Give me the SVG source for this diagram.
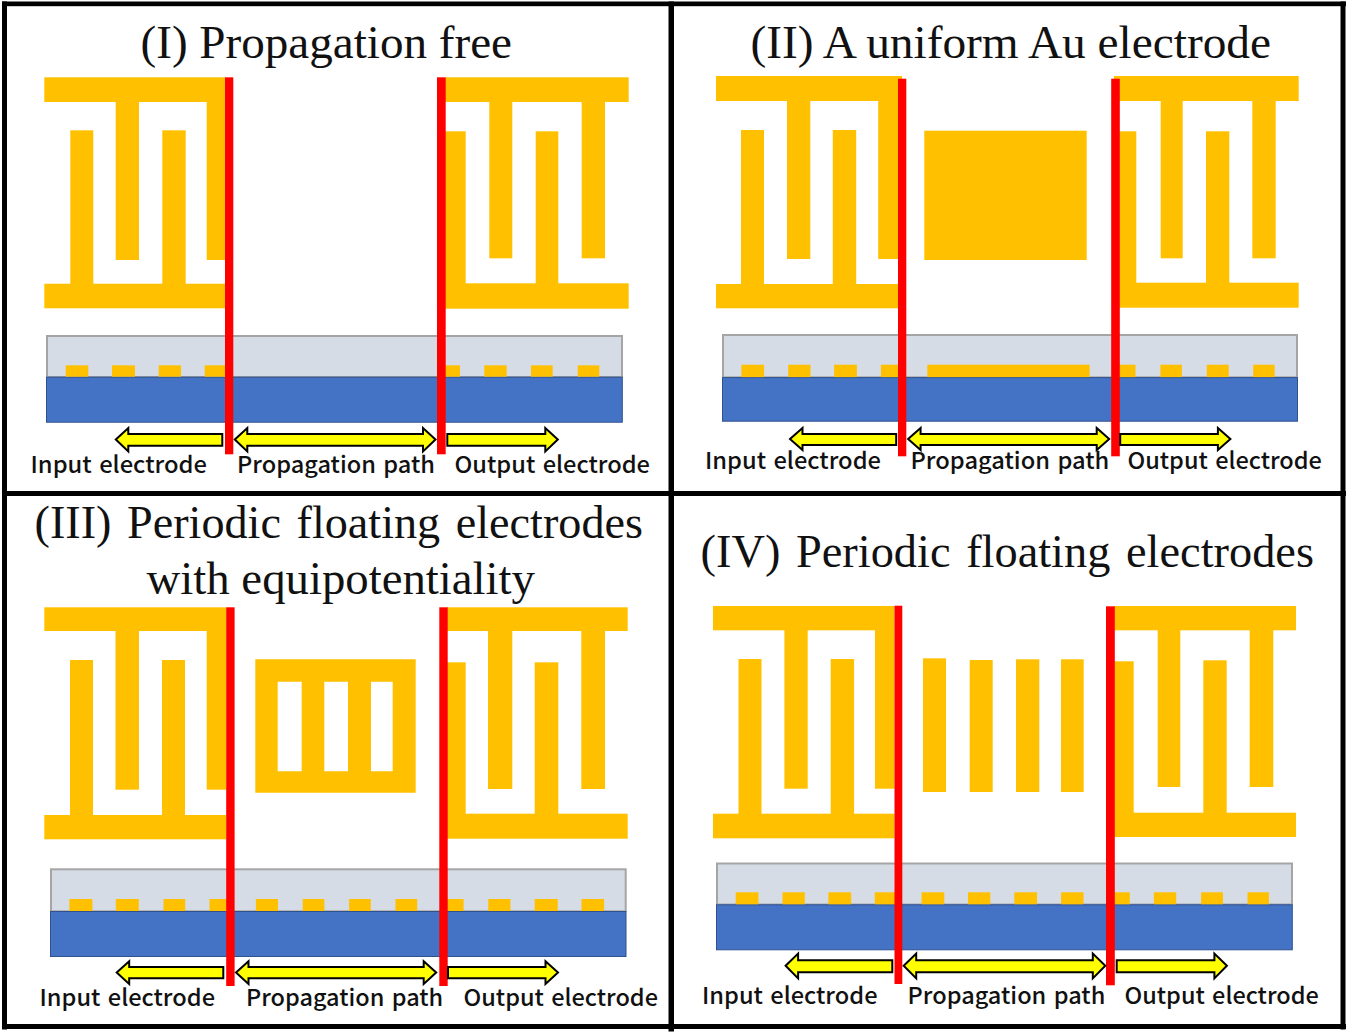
<svg xmlns="http://www.w3.org/2000/svg" width="1346" height="1032" viewBox="0 0 1346 1032">
<style>
.e{fill:#ffc000}
.r{fill:#ff0000}
.g{fill:#d6dce5;stroke:#a5a5a5;stroke-width:2}
.b{fill:#4472c4;stroke:#2f528f;stroke-width:1}
.a{fill:#ffff00;stroke:#000;stroke-width:2;stroke-linejoin:miter}
.f{fill:#000}
.t{font-family:"Liberation Serif","Times New Roman",serif;font-size:46px;fill:#111}
.w{word-spacing:4px}
.l{font-family:"Noto Sans CJK JP","Noto Sans",sans-serif;font-size:23px;font-weight:500;fill:#111;word-spacing:2px}
</style>
<rect width="1346" height="1032" fill="#fff"/>
<g id="panel-1">
<text class="t" x="140.5" y="57.5" textLength="371.5" lengthAdjust="spacingAndGlyphs">(I) Propagation free</text>
<g id="p1-input-idt"><rect class="e" x="44.3" y="77.3" width="181" height="24.7"/><rect class="e" x="115.7" y="102" width="23.3" height="158"/><rect class="e" x="206.7" y="102" width="18.5" height="158"/><rect class="e" x="70.3" y="130.3" width="23" height="154"/><rect class="e" x="162.3" y="130.3" width="23.4" height="154"/><rect class="e" x="44.3" y="283.7" width="181" height="24.6"/></g>
<g id="p1-output-idt"><rect class="e" x="445" y="77.3" width="183.7" height="24.7"/><rect class="e" x="489.3" y="102" width="23" height="156.3"/><rect class="e" x="581.7" y="102" width="23.3" height="156.3"/><rect class="e" x="445" y="131.3" width="20.7" height="153"/><rect class="e" x="535.7" y="131.3" width="22.6" height="153"/><rect class="e" x="445" y="283.3" width="183.7" height="25.4"/></g>
<g id="p1-section"><rect class="g" x="47" y="336" width="575" height="41"/><rect class="b" x="46.5" y="377.2" width="575.8" height="45"/>
<rect class="e" x="65.7" y="365.3" width="22.6" height="11.4"/><rect class="e" x="112" y="365.3" width="23" height="11.4"/><rect class="e" x="158.7" y="365.3" width="22.3" height="11.4"/><rect class="e" x="204.7" y="365.3" width="21" height="11.4"/><rect class="e" x="445" y="365.3" width="15" height="11.4"/><rect class="e" x="484.3" y="365.3" width="22.4" height="11.4"/><rect class="e" x="531" y="365.3" width="21.7" height="11.4"/><rect class="e" x="577.7" y="365.3" width="21.6" height="11.4"/></g>
<rect class="r" x="225" y="77.3" width="8.3" height="377"/><rect class="r" x="437" y="77.3" width="8.7" height="377"/>
<path class="a" d="M115.8 439.6L128.3 428V434H222.3V445.7H128.3V451.4Z"/>
<path class="a" d="M234.8 439.6L247.3 428V434H423V428L435.5 439.6L423 451.4V445.7H247.3V451.4Z"/>
<path class="a" d="M557.8 439.6L545.3 428V434H447.3V445.7H545.3V451.4Z"/>
<text class="l" x="30.5" y="473" textLength="176.5" lengthAdjust="spacingAndGlyphs">Input electrode</text>
<text class="l" x="237" y="473" textLength="198" lengthAdjust="spacingAndGlyphs">Propagation path</text>
<text class="l" x="454.5" y="473" textLength="195.5" lengthAdjust="spacingAndGlyphs">Output electrode</text>
</g>
<g id="panel-2">
<text class="t" x="750.5" y="58" textLength="520.5" lengthAdjust="spacingAndGlyphs">(II) A uniform Au electrode</text>
<g id="p2-input-idt"><rect class="e" x="716" y="76" width="186" height="25"/><rect class="e" x="787" y="101" width="23.3" height="158"/><rect class="e" x="878.2" y="101" width="22" height="158"/><rect class="e" x="741" y="130" width="23" height="155"/><rect class="e" x="832.8" y="130" width="23.4" height="155"/><rect class="e" x="716" y="284" width="184" height="24.3"/></g>
<rect id="p2-uniform" class="e" x="924.3" y="130.7" width="162.4" height="129.3"/>
<g id="p2-output-idt"><rect class="e" x="1114" y="76" width="184.7" height="25"/><rect class="e" x="1160.7" y="101" width="22" height="157.3"/><rect class="e" x="1252.3" y="101" width="23.4" height="157.3"/><rect class="e" x="1118" y="131.3" width="18.3" height="152"/><rect class="e" x="1206" y="131.3" width="23.3" height="152"/><rect class="e" x="1118" y="282.7" width="180.7" height="25"/></g>
<g id="p2-section"><rect class="g" x="723" y="335" width="574" height="42.3"/><rect class="b" x="722.5" y="377.6" width="575" height="43.6"/>
<rect class="e" x="741.4" y="364.7" width="22.7" height="12.4"/><rect class="e" x="788.2" y="364.7" width="22.3" height="12.4"/><rect class="e" x="834.1" y="364.7" width="22.8" height="12.4"/><rect class="e" x="880.9" y="364.7" width="20" height="12.4"/><rect class="e" x="927.3" y="364.7" width="162.3" height="12.4"/><rect class="e" x="1118" y="364.7" width="17.5" height="12.4"/><rect class="e" x="1160.4" y="364.7" width="21.5" height="12.4"/><rect class="e" x="1206.8" y="364.7" width="21.9" height="12.4"/><rect class="e" x="1253.2" y="364.7" width="21.4" height="12.4"/></g>
<rect class="r" x="898" y="78.7" width="8.3" height="377.6"/><rect class="r" x="1111.2" y="78.7" width="8.6" height="377.6"/>
<path class="a" d="M790 439L802.5 428V434H896.2V445H802.5V450Z"/>
<path class="a" d="M908.1 439L920.6 428V434H1096.7V428L1109.2 439L1096.7 450V445H920.6V450Z"/>
<path class="a" d="M1230.4 439L1217.9 428V434H1120.2V445H1217.9V450Z"/>
<text class="l" x="705" y="469" textLength="176" lengthAdjust="spacingAndGlyphs">Input electrode</text>
<text class="l" x="910.5" y="469" textLength="198.8" lengthAdjust="spacingAndGlyphs">Propagation path</text>
<text class="l" x="1127.5" y="469" textLength="194.4" lengthAdjust="spacingAndGlyphs">Output electrode</text>
</g>
<g id="panel-3">
<text class="t w" x="34.5" y="538" textLength="608.5" lengthAdjust="spacingAndGlyphs">(III) Periodic floating electrodes</text>
<text class="t" x="146.5" y="594" textLength="388.5" lengthAdjust="spacingAndGlyphs">with equipotentiality</text>
<g id="p3-input-idt"><rect class="e" x="44.3" y="607.3" width="182" height="23.7"/><rect class="e" x="115.5" y="631" width="23.5" height="158.7"/><rect class="e" x="206.7" y="631" width="19.5" height="158.7"/><rect class="e" x="70" y="660" width="23" height="156"/><rect class="e" x="162" y="660" width="23" height="156"/><rect class="e" x="44.3" y="815" width="182" height="24.3"/></g>
<path id="p3-frame" class="e" fill-rule="evenodd" d="M255.3 659.3H415.7V792.7H255.3ZM277.7 681.7V771.3H301.7V681.7ZM324.3 681.7V771.3H348V681.7ZM371 681.7V771.3H392.7V681.7Z"/>
<g id="p3-output-idt"><rect class="e" x="447" y="607.3" width="180.7" height="23.7"/><rect class="e" x="488" y="631" width="24.3" height="158"/><rect class="e" x="581.3" y="631" width="23.7" height="158"/><rect class="e" x="447" y="662.3" width="18.7" height="152"/><rect class="e" x="534.7" y="662.3" width="23.6" height="152"/><rect class="e" x="447" y="813.7" width="180.7" height="25"/></g>
<g id="p3-section"><rect class="g" x="51" y="869.3" width="574.7" height="42"/><rect class="b" x="50.5" y="911.5" width="575.5" height="45"/>
<rect class="e" x="69.4" y="899" width="23" height="12"/><rect class="e" x="115.8" y="899" width="23" height="12"/><rect class="e" x="163.5" y="899" width="21.7" height="12"/><rect class="e" x="209.5" y="899" width="18" height="12"/><rect class="e" x="255.9" y="899" width="22.1" height="12"/><rect class="e" x="302.7" y="899" width="21.7" height="12"/><rect class="e" x="349.1" y="899" width="21.7" height="12"/><rect class="e" x="395.5" y="899" width="21.7" height="12"/><rect class="e" x="446" y="899" width="17.6" height="12"/><rect class="e" x="488.3" y="899" width="22.1" height="12"/><rect class="e" x="534.7" y="899" width="23" height="12"/><rect class="e" x="581.5" y="899" width="22.6" height="12"/></g>
<rect class="r" x="226.2" y="607.3" width="8.4" height="378.7"/><rect class="r" x="439.3" y="607.3" width="8.4" height="378.7"/>
<path class="a" d="M116.7 972.5L129.2 961.3V967H223.3V978.3H129.2V984Z"/>
<path class="a" d="M236 972.5L248.5 961.3V967H423.7V961.3L436.2 972.5L423.7 984V978.3H248.5V984Z"/>
<path class="a" d="M558 972.5L545.5 961.3V967H448V978.3H545.5V984Z"/>
<text class="l" x="39.5" y="1006" textLength="175.5" lengthAdjust="spacingAndGlyphs">Input electrode</text>
<text class="l" x="246" y="1006" textLength="197.2" lengthAdjust="spacingAndGlyphs">Propagation path</text>
<text class="l" x="463.5" y="1006" textLength="194.5" lengthAdjust="spacingAndGlyphs">Output electrode</text>
</g>
<g id="panel-4">
<text class="t w" x="700.5" y="567" textLength="613.5" lengthAdjust="spacingAndGlyphs">(IV) Periodic floating electrodes</text>
<g id="p4-input-idt"><rect class="e" x="713" y="606" width="181.5" height="24.3"/><rect class="e" x="784.4" y="630" width="23.3" height="158.7"/><rect class="e" x="875" y="630" width="19.5" height="158.7"/><rect class="e" x="738.5" y="659" width="23" height="155"/><rect class="e" x="830.7" y="659" width="23.4" height="155"/><rect class="e" x="713" y="813.7" width="181.5" height="24.6"/></g>
<g id="p4-floating"><rect class="e" x="923" y="658.3" width="23" height="133.7"/><rect class="e" x="969.7" y="660" width="23" height="132"/><rect class="e" x="1016" y="659.3" width="23.3" height="132.7"/><rect class="e" x="1061" y="659.3" width="22.7" height="132.7"/></g>
<g id="p4-output-idt"><rect class="e" x="1114" y="606" width="182" height="24.3"/><rect class="e" x="1157.7" y="630" width="22.6" height="157"/><rect class="e" x="1249.7" y="630" width="23.6" height="157"/><rect class="e" x="1114" y="661.3" width="19.7" height="152"/><rect class="e" x="1203.3" y="660.3" width="23.4" height="153"/><rect class="e" x="1114" y="812.7" width="182" height="24.3"/></g>
<g id="p4-section"><rect class="g" x="717" y="863.5" width="575" height="41"/><rect class="b" x="716.5" y="904.8" width="575.8" height="45"/>
<rect class="e" x="735.7" y="892.3" width="22.7" height="12"/><rect class="e" x="782.5" y="892.3" width="22.3" height="12"/><rect class="e" x="828.4" y="892.3" width="22.8" height="12"/><rect class="e" x="874.8" y="892.3" width="21" height="12"/><rect class="e" x="921.6" y="892.3" width="22.7" height="12"/><rect class="e" x="968" y="892.3" width="22.3" height="12"/><rect class="e" x="1014.3" y="892.3" width="22.7" height="12"/><rect class="e" x="1061.1" y="892.3" width="22.4" height="12"/><rect class="e" x="1113" y="892.3" width="16.8" height="12"/><rect class="e" x="1153.9" y="892.3" width="22.3" height="12"/><rect class="e" x="1201.1" y="892.3" width="21.9" height="12"/><rect class="e" x="1247.5" y="892.3" width="21.4" height="12"/></g>
<rect class="r" x="894.5" y="605.7" width="7.8" height="378.3"/><rect class="r" x="1106" y="606.3" width="8.8" height="379"/>
<path class="a" d="M785.6 965.7L798.1 953.6V960.3H892.3V972.3H798.1V978.4Z"/>
<path class="a" d="M903.7 965.7L916.2 953.6V960.3H1092.8V953.6L1105.3 965.7L1092.8 978.4V972.3H916.2V978.4Z"/>
<path class="a" d="M1226.9 965.7L1214.4 953.6V960.3H1116.7V972.3H1214.4V978.4Z"/>
<text class="l" x="702" y="1004" textLength="175.5" lengthAdjust="spacingAndGlyphs">Input electrode</text>
<text class="l" x="907.5" y="1004" textLength="197.8" lengthAdjust="spacingAndGlyphs">Propagation path</text>
<text class="l" x="1124.5" y="1004" textLength="194.3" lengthAdjust="spacingAndGlyphs">Output electrode</text>
</g>
<g id="frame">
<rect class="f" x="2" y="1.5" width="1344" height="4.7"/>
<rect class="f" x="2" y="491" width="1344" height="5"/>
<rect class="f" x="2" y="1024" width="1344" height="5"/>
<rect class="f" x="2" y="1.5" width="5" height="1028"/>
<rect class="f" x="668.5" y="1.5" width="5.5" height="1030"/>
<rect class="f" x="1340.5" y="1.5" width="5" height="1028"/>
</g>
</svg>
